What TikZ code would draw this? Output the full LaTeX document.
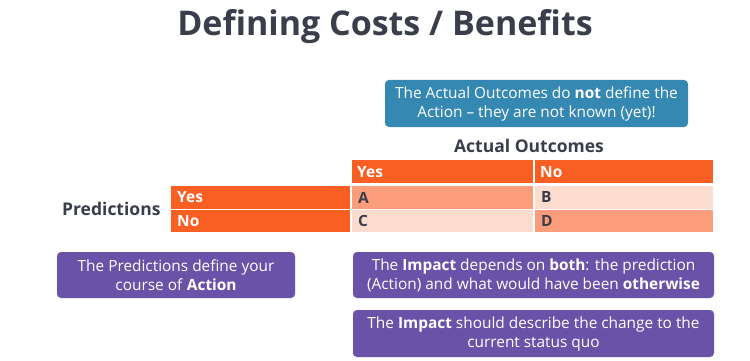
\documentclass[tikz,border=0pt]{standalone}
\usepackage{fontspec}
\setmainfont{Open Sans}
\definecolor{titlec}{HTML}{3A3D4A}
\definecolor{bluebox}{HTML}{3588B2}
\definecolor{purplebox}{HTML}{6A52A9}
\definecolor{orangec}{HTML}{F95E22}
\definecolor{midc}{HTML}{FB9D7B}
\definecolor{lightc}{HTML}{FDDCD0}
\definecolor{darktext}{HTML}{3A3D4A}
\begin{document}
\begin{tikzpicture}[x=1pt,y=-1pt,
  note/.style={rounded corners=4pt, text=white, align=center, font=\fontsize{15.4}{19}\selectfont, inner sep=0pt},
  cellbox/.style={inner sep=0pt, anchor=north west},
  headcell/.style={cellbox, fill=orangec},
  midcell/.style={cellbox, fill=midc},
  lightcell/.style={cellbox, fill=lightc},
  celltext/.style={anchor=west, inner sep=0pt, font=\fontsize{15.5}{17}\selectfont\bfseries},
  bigbold/.style={text=darktext, font=\fontsize{17.5}{20}\selectfont\bfseries}]
\useasboundingbox (0,0) rectangle (750,361);
\node[font=\fontsize{34}{38}\selectfont\bfseries, text=titlec] (title) at (385,27) {Defining Costs / Benefits};
% blue note
\node[note, fill=bluebox, minimum width=303, minimum height=47] (blue) at (536.5,103.5) {The Actual Outcomes do \textbf{not} define the\\Action -- they are not known (yet)!};
\node[bigbold] (actual) at (529,146) {Actual Outcomes};
% header row
\node[headcell, minimum width=181, minimum height=23] (hyes) at (352,160) {};
\node[headcell, minimum width=178, minimum height=23] (hno) at (535,160) {};
\node[celltext, text=white] (hyest) at ([xshift=5]hyes.west) {Yes};
\node[celltext, text=white] (hnot) at ([xshift=5]hno.west) {No};
% row labels
\node[headcell, minimum width=179, minimum height=22.5] (ryes) at (171,186) {};
\node[headcell, minimum width=179, minimum height=22.5] (rno) at (171,209.5) {};
\node[celltext, text=white] (ryest) at ([xshift=6]ryes.west) {Yes};
\node[celltext, text=white] (rnot) at ([xshift=6]rno.west) {No};
% cells
\node[midcell, minimum width=181, minimum height=22.5] (ca) at (352,186) {};
\node[lightcell, minimum width=178, minimum height=22.5] (cb) at (535,186) {};
\node[lightcell, minimum width=181, minimum height=22.5] (cc) at (352,209.5) {};
\node[midcell, minimum width=178, minimum height=22.5] (cd) at (535,209.5) {};
\node[celltext, text=darktext] (cat) at ([xshift=6]ca.west) {A};
\node[celltext, text=darktext] (cbt) at ([xshift=6]cb.west) {B};
\node[celltext, text=darktext] (cct) at ([xshift=6]cc.west) {C};
\node[celltext, text=darktext] (cdt) at ([xshift=6]cd.west) {D};
\node[bigbold, anchor=east] (pred) at (164,209) {Predictions};
% purple notes
\node[note, fill=purplebox, minimum width=238, minimum height=46] (p1) at (176,275) {The Predictions define your\\course of \textbf{Action}};
\node[note, fill=purplebox, minimum width=361, minimum height=46] (p2) at (533.5,275) {The \textbf{Impact} depends on \textbf{both}: the prediction\\(Action) and what would have been \textbf{otherwise}};
\node[note, fill=purplebox, minimum width=361, minimum height=47] (p3) at (533.5,333.5) {The \textbf{Impact} should describe the change to the\\current status quo};
\end{tikzpicture}
\end{document}
